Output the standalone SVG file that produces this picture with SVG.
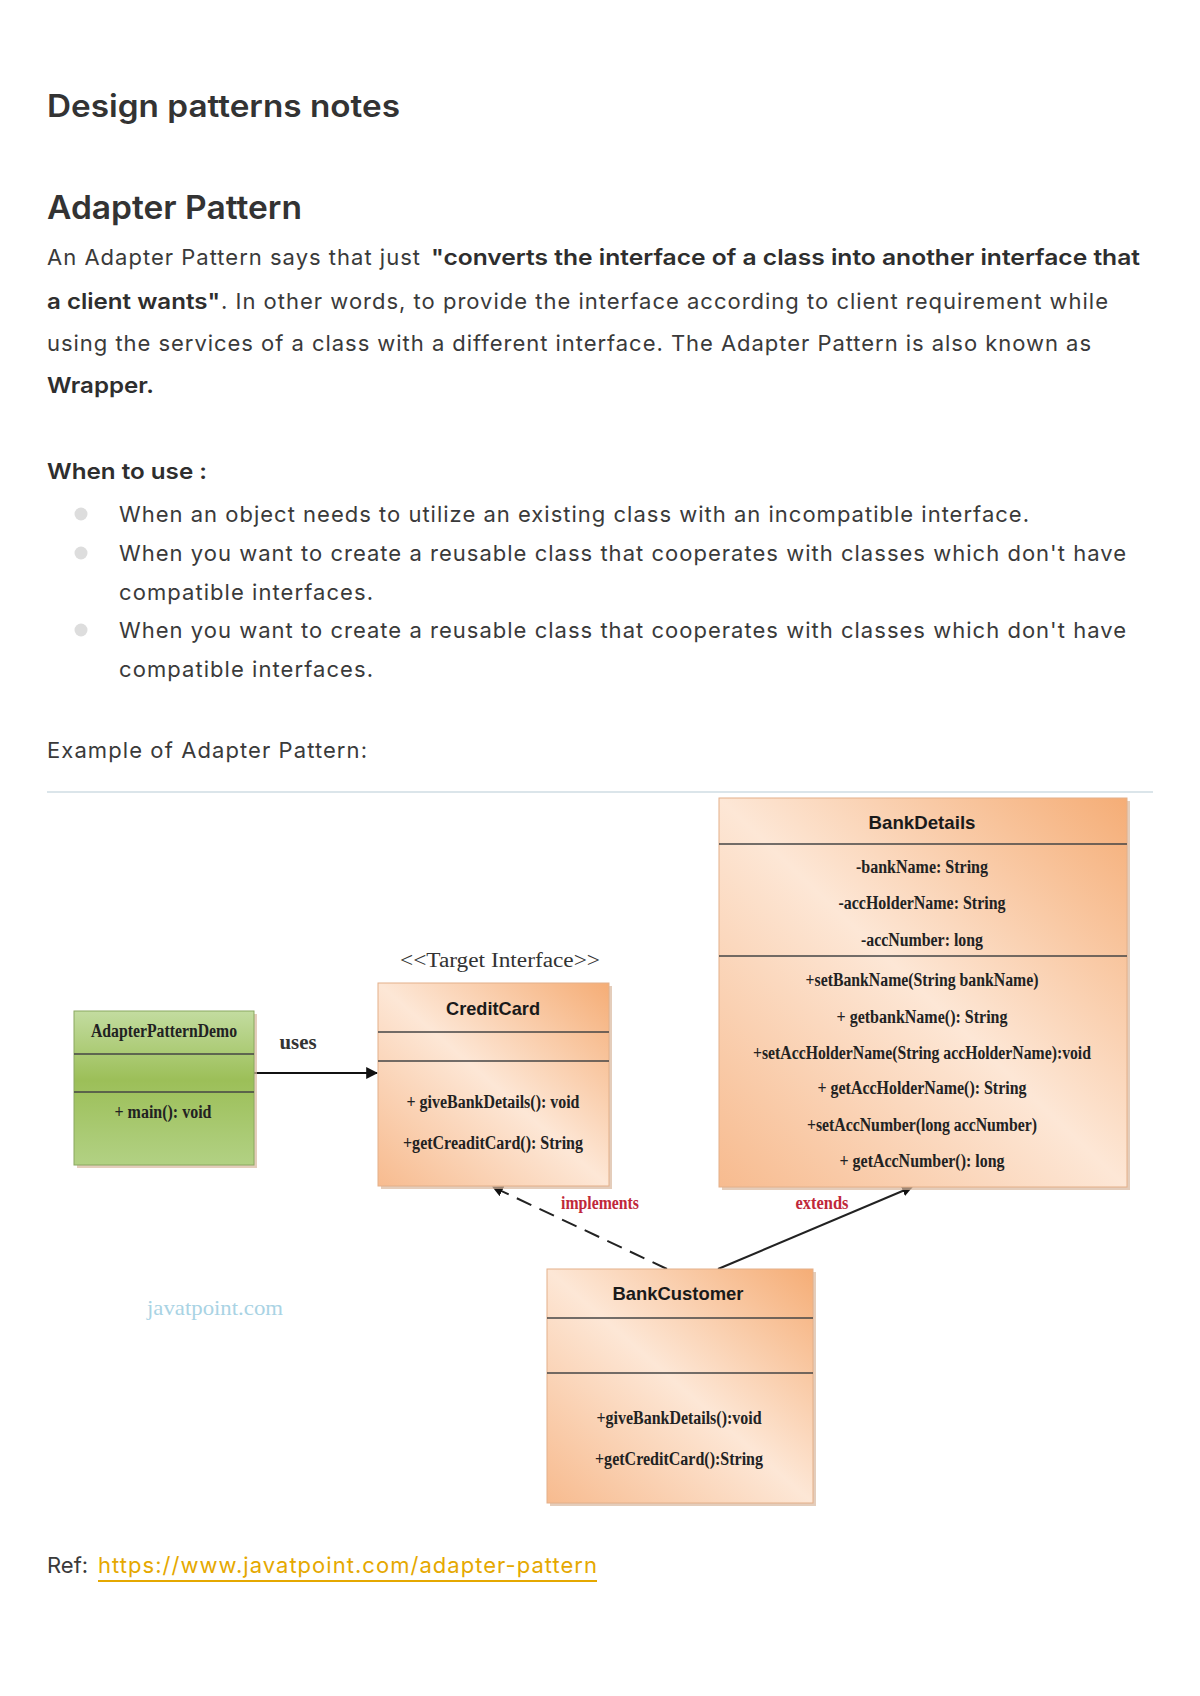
<svg xmlns="http://www.w3.org/2000/svg" width="1200" height="1696" viewBox="0 0 1200 1696">
<defs>
<linearGradient id="peach" x1="1" y1="0" x2="0" y2="1">
<stop offset="0" stop-color="#f5ad76"/>
<stop offset="0.5" stop-color="#fde7d6"/>
<stop offset="1" stop-color="#f7bb8f"/>
</linearGradient>
<linearGradient id="green" x1="0" y1="0" x2="0" y2="1">
<stop offset="0" stop-color="#c3dca0"/>
<stop offset="0.45" stop-color="#9cbf58"/>
<stop offset="1" stop-color="#b2d184"/>
</linearGradient>
<marker id="arrow" viewBox="0 0 10 10" refX="9" refY="5" markerWidth="11" markerHeight="11" markerUnits="userSpaceOnUse" orient="auto">
<path d="M0,0 L10,5 L0,10 z" fill="#111"/>
</marker>
<marker id="arrowS" viewBox="0 0 10 10" refX="9" refY="5" markerWidth="12" markerHeight="12" markerUnits="userSpaceOnUse" orient="auto">
<path d="M0,0 L10,5 L0,10 z" fill="#111"/>
</marker>
</defs>
<style>
.h{font-family:Inter,"Noto Sans",sans-serif;font-weight:600;fill:#333333;}
.p{font-family:Inter,"Noto Sans",sans-serif;font-size:22px;fill:#3a3a3a;}
.b{font-weight:600;fill:#2e2e2e;}
.cls{font-family:"Liberation Sans",Arial,sans-serif;font-weight:bold;font-size:19px;fill:#1a1a1a;text-anchor:middle;}
.mem{font-family:"Liberation Serif","Times New Roman",serif;font-weight:bold;font-size:18px;fill:#222222;text-anchor:middle;}
.box{fill:url(#peach);stroke:#e3b08a;stroke-width:1;}
.shadow{fill:#d8b89e;opacity:0.7;}
.sep{stroke:#444444;stroke-width:1.5;}
.rel{font-family:"Liberation Serif","Times New Roman",serif;font-weight:bold;font-size:18px;fill:#c0283a;text-anchor:middle;}
.bul{fill:#dddddd;}
</style>
<rect width="1200" height="1696" fill="#ffffff"/>

<g id="text">
<text class="h" x="47" y="117" font-size="31" textLength="353" lengthAdjust="spacingAndGlyphs">Design patterns notes</text>
<text class="h" x="47" y="219" font-size="32" textLength="255" lengthAdjust="spacingAndGlyphs">Adapter Pattern</text>
<text class="p" x="47" y="265" textLength="373" lengthAdjust="spacing">An Adapter Pattern says that just</text>
<text class="p b" x="431" y="265" textLength="709" lengthAdjust="spacingAndGlyphs">"converts the interface of a class into another interface that</text>
<text class="p b" x="47" y="309" textLength="173" lengthAdjust="spacingAndGlyphs">a client wants"</text>
<text class="p" x="221" y="309" textLength="887" lengthAdjust="spacing">. In other words, to provide the interface according to client requirement while</text>
<text class="p" x="47" y="351" textLength="1044" lengthAdjust="spacing">using the services of a class with a different interface. The Adapter Pattern is also known as</text>
<text class="p b" x="47" y="393" textLength="107" lengthAdjust="spacingAndGlyphs">Wrapper.</text>
<text class="p b" x="47" y="479" textLength="160" lengthAdjust="spacingAndGlyphs">When to use :</text>
<circle class="bul" cx="81" cy="514" r="6.5"/>
<circle class="bul" cx="81" cy="553" r="6.5"/>
<circle class="bul" cx="81" cy="630" r="6.5"/>
<text class="p" x="119" y="522" textLength="910" lengthAdjust="spacing">When an object needs to utilize an existing class with an incompatible interface.</text>
<text class="p" x="119" y="561" textLength="1007" lengthAdjust="spacing">When you want to create a reusable class that cooperates with classes which don't have</text>
<text class="p" x="119" y="600" textLength="254" lengthAdjust="spacing">compatible interfaces.</text>
<text class="p" x="119" y="638" textLength="1007" lengthAdjust="spacing">When you want to create a reusable class that cooperates with classes which don't have</text>
<text class="p" x="119" y="677" textLength="254" lengthAdjust="spacing">compatible interfaces.</text>
<text class="p" x="47" y="758" textLength="320" lengthAdjust="spacing">Example of Adapter Pattern:</text>
<line x1="47" y1="792" x2="1153" y2="792" stroke="#cfdde3" stroke-width="1.5"/>
<text class="p" x="47" y="1573">Ref:</text>
<text class="p" x="98" y="1573" style="fill:#e5a800" textLength="499" lengthAdjust="spacing">https://www.javatpoint.com/adapter-pattern</text>
<line x1="98" y1="1581" x2="597" y2="1581" stroke="#e5a800" stroke-width="2"/>
<text x="215" y="1315" font-family="'Liberation Serif','Times New Roman',serif" font-size="21" fill="#a9d3e4" text-anchor="middle" textLength="136" lengthAdjust="spacingAndGlyphs">javatpoint.com</text>
</g>

<g id="connectors">
<line x1="254" y1="1073" x2="377" y2="1073" stroke="#111" stroke-width="2.2" marker-end="url(#arrowS)"/>
<text x="298" y="1049" font-family="'Liberation Serif','Times New Roman',serif" font-weight="bold" font-size="20" fill="#333" text-anchor="middle" textLength="37" lengthAdjust="spacingAndGlyphs">uses</text>
<line x1="667" y1="1269" x2="493" y2="1187" stroke="#222" stroke-width="2" stroke-dasharray="16,9" marker-end="url(#arrow)"/>
<text class="rel" x="600" y="1209" textLength="78" lengthAdjust="spacingAndGlyphs">implements</text>
<line x1="718" y1="1269" x2="912" y2="1187" stroke="#222" stroke-width="2" marker-end="url(#arrow)"/>
<text class="rel" x="822" y="1209" textLength="53" lengthAdjust="spacingAndGlyphs">extends</text>
</g>

<g id="AdapterPatternDemo">
<rect class="shadow" x="77" y="1014" width="180" height="154"/>
<rect x="74" y="1011" width="180" height="154" fill="url(#green)" stroke="#8aa860" stroke-width="1"/>
<line class="sep" x1="74" y1="1054" x2="254" y2="1054"/>
<line class="sep" x1="74" y1="1092" x2="254" y2="1092"/>
<text class="mem" x="164" y="1037" textLength="146" lengthAdjust="spacingAndGlyphs">AdapterPatternDemo</text>
<text class="mem" x="163" y="1118" textLength="97" lengthAdjust="spacingAndGlyphs">+ main(): void</text>
</g>

<g id="CreditCard">
<text x="500" y="967" font-family="'Liberation Serif','Times New Roman',serif" font-size="20" fill="#333" text-anchor="middle" textLength="200" lengthAdjust="spacingAndGlyphs">&lt;&lt;Target Interface&gt;&gt;</text>
<rect class="shadow" x="381" y="986" width="231" height="203"/>
<rect class="box" x="378" y="983" width="231" height="203"/>
<line class="sep" x1="378" y1="1032" x2="609" y2="1032"/>
<line class="sep" x1="378" y1="1061" x2="609" y2="1061"/>
<text class="cls" x="493" y="1015" textLength="94" lengthAdjust="spacingAndGlyphs">CreditCard</text>
<text class="mem" x="493" y="1108" textLength="173" lengthAdjust="spacingAndGlyphs">+ giveBankDetails(): void</text>
<text class="mem" x="493" y="1149" textLength="180" lengthAdjust="spacingAndGlyphs">+getCreaditCard(): String</text>
</g>

<g id="BankDetails">
<rect class="shadow" x="722" y="801" width="408" height="389"/>
<rect class="box" x="719" y="798" width="408" height="389"/>
<line class="sep" x1="719" y1="844" x2="1127" y2="844"/>
<line class="sep" x1="719" y1="956" x2="1127" y2="956"/>
<text class="cls" x="922" y="829" textLength="107" lengthAdjust="spacingAndGlyphs">BankDetails</text>
<text class="mem" x="922" y="873" textLength="132" lengthAdjust="spacingAndGlyphs">-bankName: String</text>
<text class="mem" x="922" y="909" textLength="167" lengthAdjust="spacingAndGlyphs">-accHolderName: String</text>
<text class="mem" x="922" y="946" textLength="122" lengthAdjust="spacingAndGlyphs">-accNumber: long</text>
<text class="mem" x="922" y="986" textLength="233" lengthAdjust="spacingAndGlyphs">+setBankName(String bankName)</text>
<text class="mem" x="922" y="1023" textLength="171" lengthAdjust="spacingAndGlyphs">+ getbankName(): String</text>
<text class="mem" x="922" y="1059" textLength="338" lengthAdjust="spacingAndGlyphs">+setAccHolderName(String accHolderName):void</text>
<text class="mem" x="922" y="1094" textLength="209" lengthAdjust="spacingAndGlyphs">+ getAccHolderName(): String</text>
<text class="mem" x="922" y="1131" textLength="230" lengthAdjust="spacingAndGlyphs">+setAccNumber(long accNumber)</text>
<text class="mem" x="922" y="1167" textLength="165" lengthAdjust="spacingAndGlyphs">+ getAccNumber(): long</text>
</g>

<g id="BankCustomer">
<rect class="shadow" x="550" y="1272" width="266" height="234"/>
<rect class="box" x="547" y="1269" width="266" height="234"/>
<line class="sep" x1="547" y1="1318" x2="813" y2="1318"/>
<line class="sep" x1="547" y1="1373" x2="813" y2="1373"/>
<text class="cls" x="678" y="1300" textLength="131" lengthAdjust="spacingAndGlyphs">BankCustomer</text>
<text class="mem" x="679" y="1424" textLength="165" lengthAdjust="spacingAndGlyphs">+giveBankDetails():void</text>
<text class="mem" x="679" y="1465" textLength="168" lengthAdjust="spacingAndGlyphs">+getCreditCard():String</text>
</g>
</svg>
